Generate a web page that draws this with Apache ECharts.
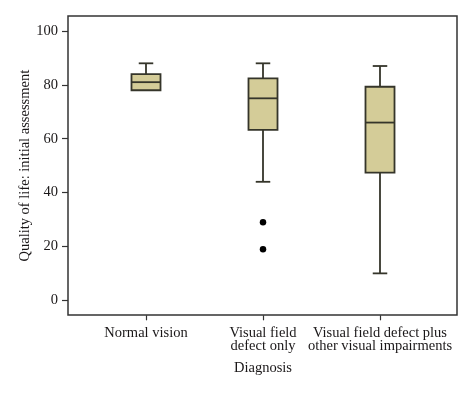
<!DOCTYPE html>
<html>
<head>
<meta charset="utf-8">
<script src="https://cdn.jsdelivr.net/npm/echarts@6/dist/echarts.min.js"></script>
<style>html,body{margin:0;padding:0;background:#fff}#c{width:474px;height:393px}</style>
</head>
<body>
<div id="c"></div>
<script>
const categories = ['Normal vision', 'Visual field\ndefect only', 'Visual field defect plus\nother visual impairments'];
// [min whisker, Q1, median, Q3, max whisker]
const lowWhisker = [78, 44, 10];
const q1 = [78, 63.3, 47.4];
const median = [81, 75, 66];
const q3 = [84, 82.4, 79.3];
const highWhisker = [88, 88, 87];
const outlierCategory = [1, 1];
const outlierValues = [29, 19];
const yTicks = [0, 20, 40, 60, 80, 100];

const boxData = categories.map((c, i) => [i, lowWhisker[i], q1[i], median[i], q3[i], highWhisker[i]]);
const outliers = outlierValues.map((v, i) => [outlierCategory[i], v]);

const font = '"Liberation Serif", "DejaVu Serif", serif';
const txt = '#1a1718';
const fill = '#d4cc98';
const edge = '#35352a';

const chart = echarts.init(document.getElementById('c'));
chart.setOption({
  animation: false,
  backgroundColor: '#fff',
  grid: [
    {left: 68, top: 16, width: 389, height: 299, show: true, borderColor: '#333', borderWidth: 1.5, backgroundColor: 'transparent'},
    {left: 87.5, top: 31, width: 351, height: 269.3}
  ],
  xAxis: [
    {gridIndex: 0, type: 'value', show: false},
    {
      gridIndex: 1, type: 'category', data: categories, offset: 15, position: 'bottom',
      axisLine: {show: false, onZero: false},
      axisTick: {show: true, alignWithLabel: true, length: 5, lineStyle: {color: '#333', width: 1.2}},
      axisLabel: {margin: 11, fontFamily: font, fontSize: 14.5, lineHeight: 13, color: txt, interval: 0},
      name: 'Diagnosis', nameLocation: 'middle', nameGap: 45, nameMoveOverlap: false,
      nameTextStyle: {fontFamily: font, fontSize: 14.5, color: txt},
      splitLine: {show: false}
    }
  ],
  yAxis: [
    {gridIndex: 0, type: 'value', show: false},
    {
      gridIndex: 1, type: 'value', min: yTicks[0], max: yTicks[yTicks.length - 1], interval: 20, offset: 19.5,
      axisLine: {show: false, onZero: false},
      axisTick: {show: true, length: 6, lineStyle: {color: '#333', width: 1.2}},
      axisLabel: {margin: 10, fontFamily: font, fontSize: 14.5, color: txt},
      splitLine: {show: false},
      name: 'Quality of life: initial assessment', nameLocation: 'middle', nameGap: 35, nameMoveOverlap: false,
      nameTextStyle: {fontFamily: font, fontSize: 14.5, color: txt}
    }
  ],
  series: [
    {
      type: 'custom', xAxisIndex: 1, yAxisIndex: 1,
      data: boxData,
      encode: {x: 0, y: [1, 2, 3, 4, 5]},
      renderItem: function (params, api) {
        const x = api.value(0);
        const pLow = api.coord([x, api.value(1)]);
        const pQ1 = api.coord([x, api.value(2)]);
        const pMed = api.coord([x, api.value(3)]);
        const pQ3 = api.coord([x, api.value(4)]);
        const pHigh = api.coord([x, api.value(5)]);
        const band = api.size([1, 0])[0];
        const hw = band * 0.124;
        const cw = band * 0.062;
        const cx = pMed[0];
        const ls = {stroke: edge, lineWidth: 1.8};
        const children = [];
        if (pHigh[1] < pQ3[1] - 0.5) {
          children.push({type: 'line', shape: {x1: cx, y1: pHigh[1], x2: cx, y2: pQ3[1]}, style: ls});
          children.push({type: 'line', shape: {x1: cx - cw, y1: pHigh[1], x2: cx + cw, y2: pHigh[1]}, style: ls});
        }
        if (pLow[1] > pQ1[1] + 0.5) {
          children.push({type: 'line', shape: {x1: cx, y1: pQ1[1], x2: cx, y2: pLow[1]}, style: ls});
          children.push({type: 'line', shape: {x1: cx - cw, y1: pLow[1], x2: cx + cw, y2: pLow[1]}, style: ls});
        }
        children.push({type: 'rect', shape: {x: cx - hw, y: pQ3[1], width: hw * 2, height: pQ1[1] - pQ3[1]},
          style: {fill: fill, stroke: edge, lineWidth: 1.8}});
        children.push({type: 'line', shape: {x1: cx - hw, y1: pMed[1], x2: cx + hw, y2: pMed[1]}, style: ls});
        return {type: 'group', children: children};
      }
    },
    {
      type: 'scatter', xAxisIndex: 1, yAxisIndex: 1,
      data: outliers, symbol: 'circle', symbolSize: 6.5,
      itemStyle: {color: '#000', opacity: 1}
    }
  ]
});
</script>
</body>
</html>
